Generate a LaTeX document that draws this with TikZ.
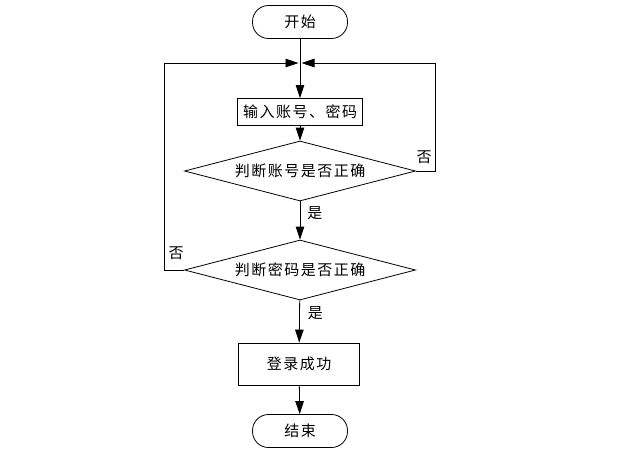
\documentclass[tikz,border=0pt]{standalone}
\usepackage{fontspec}
\setmainfont{Noto Sans CJK SC}[LetterSpace=10]
\usetikzlibrary{shapes.geometric,arrows.meta,calc}
\begin{document}
\begin{tikzpicture}[x=1pt,y=-1pt,
  every node/.style={font=\fontsize{15}{17}\selectfont},
  term/.style={draw,rounded corners=16pt,minimum width=95pt,minimum height=33pt,inner sep=0pt},
  proc/.style={draw,minimum width=125pt,minimum height=27pt,inner sep=0pt},
  dec/.style={draw,diamond,aspect=3.85,minimum width=231pt,minimum height=60pt,inner sep=0pt},
  lbl/.style={inner sep=0pt},
  arr/.style={-{Triangle[length=13pt,width=8.5pt]}},
  line width=0.8pt]
\useasboundingbox (0,0) rectangle (644,456);
\node[term] (start) at (300,22) {开始};
\coordinate (j) at (300,63);
\node[proc] (input) at (300,112) {输入账号、密码};
\node[dec] (d1) at (300,171) {判断账号是否正确};
\node[dec] (d2) at (300,270) {判断密码是否正确};
\node[proc,minimum width=121pt,minimum height=42pt] (ok) at (299,364) {登录成功};
\node[term] (end) at (300,431) {结束};
\coordinate (lc) at (164,63);
\coordinate (rc) at (435,63);
\draw (start) -- (j);
\draw[arr] (j) -- (input);
\draw[arr] (input) -- (d1);
\draw[arr] (d1) -- node[lbl,right=7pt,pos=0.3] {是} (d2);
\draw[arr] (d2) -- node[lbl,right=8pt,pos=0.3] {是} (ok);
\draw[arr] (ok) -- (end);
\draw[arr] (d1.east) -- (d1.east -| rc) -- (rc) -- ($(j)+(1.5,0)$);
\draw[arr] (d2.west) -- (d2.west -| lc) -- (lc) -- ($(j)+(-1.5,0)$);
\node[lbl] (n1) at (424,157) {否};
\node[lbl] (n2) at (176,253) {否};
\end{tikzpicture}
\end{document}
